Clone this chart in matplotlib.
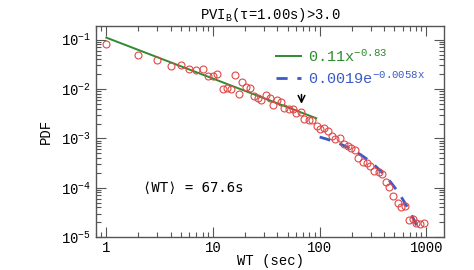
import numpy as np
import matplotlib
matplotlib.use("Agg")
import matplotlib.pyplot as plt
from matplotlib.ticker import FixedLocator, LogLocator, NullFormatter, FuncFormatter

plt.rcParams['font.family'] = ['Liberation Mono', 'DejaVu Sans Mono']
plt.rcParams['mathtext.fontset'] = 'custom'
plt.rcParams['mathtext.rm'] = 'Liberation Mono'
plt.rcParams['mathtext.it'] = 'Liberation Mono'
plt.rcParams['mathtext.bf'] = 'Liberation Mono:bold'

# waiting-time PDF
wt = [1, 2, 3, 4, 5, 6, 7, 8, 9, 10, 11, 12.3, 13.5, 14.6, 16, 17.4, 18.8, 20.2,
      22.2, 24.3, 26.2, 28.3, 31.2, 34.5, 36.5, 40, 43.7, 46.8, 51.2, 56, 60,
      66.2, 71.5, 79, 85.6, 93.5, 101.5, 110, 120, 130, 140, 154, 168, 183, 197,
      215, 231, 253, 276, 297, 326, 357, 384, 419, 450, 490, 540, 585, 635, 695,
      745, 805, 875, 956]
pdf = [0.082, 0.049, 0.039, 0.029, 0.031, 0.026, 0.024, 0.025, 0.018, 0.018,
       0.020, 0.0102, 0.0106, 0.010, 0.019, 0.0081, 0.014, 0.011, 0.0107, 0.0072,
       0.0066, 0.0059, 0.0074, 0.0066, 0.0047, 0.0059, 0.0054, 0.0042, 0.0040,
       0.0039, 0.0032, 0.0034, 0.0025, 0.0024, 0.0024, 0.00178, 0.00158, 0.00166,
       0.00138, 0.00114, 0.00098, 0.00100, 0.00078, 0.00069, 0.00064, 0.00059,
       0.00040, 0.00033, 0.00032, 0.00028, 0.00022, 0.00021, 0.00019, 0.000133,
       0.000104, 6.9e-5, 4.8e-5, 4.1e-5, 4.2e-5, 2.2e-5, 2.3e-5, 1.9e-5, 1.8e-5,
       1.9e-5]

# fits
pl_amp, pl_exp = 0.11, -0.83
ex_amp, ex_rate = 0.0019, -0.0058
pl_range = (1, 93)
ex_range = (100, 850)
mean_wt = 67.6

green = '#2e8b2e'
blue = '#3a5bc7'
red = '#e04848'

fig = plt.figure(figsize=(4.74, 2.70), dpi=100)
ax = fig.add_axes([0.2025, 0.122, 0.7345, 0.782])

ax.plot(wt, pdf, 'o', mfc='none', mec=red, ms=5, mew=0.8, zorder=3)

xp = np.logspace(np.log10(pl_range[0]), np.log10(pl_range[1]), 100)
ax.plot(xp, pl_amp * xp ** pl_exp, color=green, lw=1.4,
        label='0.11x$^{-0.83}$')
xe = np.linspace(ex_range[0], ex_range[1], 200)
ax.plot(xe, ex_amp * np.exp(ex_rate * xe), color=blue, lw=2.0, ls=(0, (4, 3.5)),
        label='0.0019e$^{-0.0058x}$')

ax.set_xscale('log')
ax.set_yscale('log')
ax.set_xlim(0.8, 1470)
ax.set_ylim(1e-5, 0.19)

ax.xaxis.set_major_locator(FixedLocator([1, 10, 100, 1000]))
ax.xaxis.set_major_formatter(FuncFormatter(lambda v, p: '%d' % v))
ax.xaxis.set_minor_locator(LogLocator(base=10, subs=np.arange(2, 10), numticks=20))
ax.xaxis.set_minor_formatter(NullFormatter())
ax.yaxis.set_major_locator(FixedLocator([1e-5, 1e-4, 1e-3, 1e-2, 1e-1]))
ax.yaxis.set_major_formatter(FuncFormatter(lambda v, p: '10$^{%d}$' % round(np.log10(v))))
ax.yaxis.set_minor_locator(LogLocator(base=10, subs=np.arange(2, 10), numticks=20))
ax.yaxis.set_minor_formatter(NullFormatter())

ax.tick_params(which='both', direction='in', top=True, right=True, colors='#555555',
               labelcolor='black', labelsize=10)
ax.tick_params(axis='x', which='major', pad=3)
ax.tick_params(which='major', length=7, width=0.8)
ax.tick_params(which='minor', length=3.5, width=0.8)
for s in ax.spines.values():
    s.set_color('#555555')
    s.set_linewidth(1.0)

ax.set_xlabel('WT (sec)', fontsize=10, labelpad=-1)
ax.set_ylabel('PDF', fontsize=10, labelpad=6)
ax.set_title('PVI$_\\mathrm{B}$(\u03c4=1.00s)>3.0', fontsize=10, pad=5)

leg = ax.legend(loc='upper right', bbox_to_anchor=(0.985, 0.96), frameon=False,
                fontsize=11, handlelength=1.6, handletextpad=0.5,
                labelspacing=0.35, labelcolor='linecolor')

ax.annotate('', xy=(mean_wt, 0.0044), xytext=(mean_wt, 0.0088),
            arrowprops=dict(arrowstyle='->', color='black', lw=1.1,
                            mutation_scale=12))
ax.text(2.2, 1e-4, '\u27e8WT\u27e9 = %.1fs' % mean_wt, fontsize=10,
        va='center', ha='left', family=['DejaVu Sans Mono'])

fig.savefig('out.png', dpi=100)
